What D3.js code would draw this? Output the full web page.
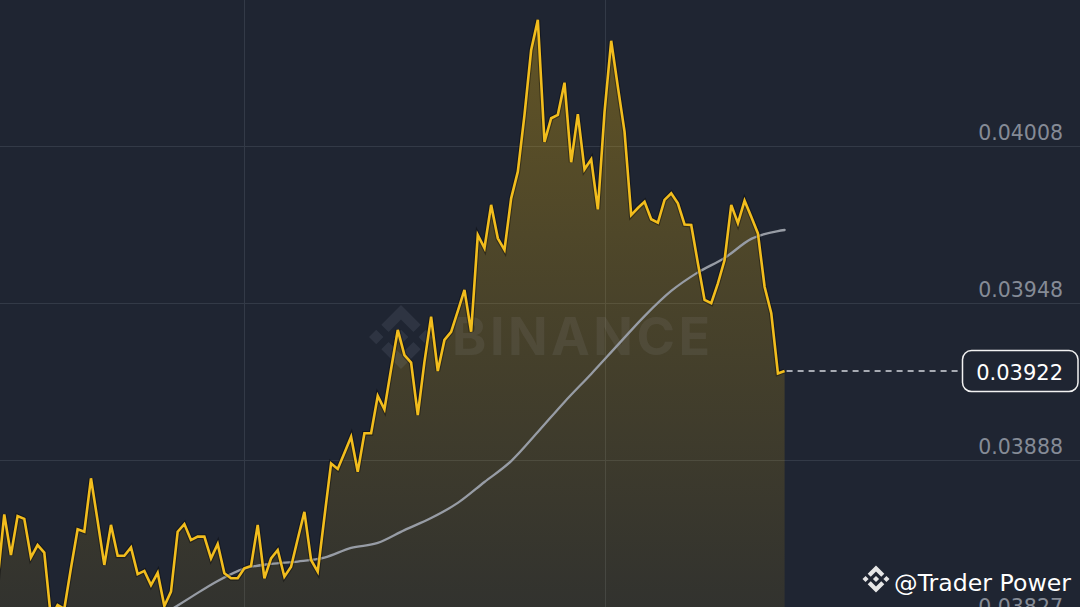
<!DOCTYPE html>
<html>
<head>
<meta charset="utf-8">
<script src="https://cdn.jsdelivr.net/npm/d3@7/dist/d3.min.js"></script>
<style>
  html, body { margin: 0; padding: 0; background: #1f2532; }
  svg { display: block; }
</style>
</head>
<body>
<svg id="chart" width="1080" height="607"></svg>
<script>
// ---------- DATA ----------
// price series, one value per candle index (index starts at -1)
const firstIndex = -1;
const priceValues = [
  0.038421, 0.038672, 0.038517, 0.038666, 0.038655, 0.038508, 0.038555, 0.038526, 0.038276, 0.038326,
  0.038311, 0.038467, 0.038615, 0.038606, 0.038810, 0.038647, 0.038479, 0.038632, 0.038514, 0.038514,
  0.038546, 0.038444, 0.038456, 0.038402, 0.038449, 0.038322, 0.038377, 0.038606, 0.038635, 0.038574,
  0.038587, 0.038587, 0.038504, 0.038559, 0.038447, 0.038428, 0.038428, 0.038466, 0.038475, 0.038632,
  0.038428, 0.038504, 0.038536, 0.038434, 0.038472, 0.038578, 0.038682, 0.038498, 0.038453, 0.038662,
  0.038867, 0.038846, 0.038907, 0.038969, 0.038835, 0.038982, 0.038982, 0.039125, 0.039074, 0.039228,
  0.039377, 0.039281, 0.039252, 0.039052, 0.039255, 0.039428, 0.039220, 0.039339, 0.039370, 0.039449,
  0.039530, 0.039370, 0.039740, 0.039690, 0.039855, 0.039727, 0.039683, 0.039880, 0.039982, 0.040199,
  0.040447, 0.040562, 0.040096, 0.040186, 0.040199, 0.040322, 0.040018, 0.040202, 0.039991, 0.040029,
  0.039838, 0.040210, 0.040482, 0.040306, 0.040135, 0.039816, 0.039843, 0.039867, 0.039800, 0.039787,
  0.039874, 0.039899, 0.039861, 0.039780, 0.039778, 0.039632, 0.039492, 0.039479, 0.039555, 0.039644,
  0.039855, 0.039785, 0.039871, 0.039810, 0.039746, 0.039542, 0.039441, 0.039211, 0.039220
];
// moving average (grey line), sampled at these candle indices
const maIndex  = [24, 28, 32, 36, 40, 44, 48, 52, 56, 60, 64, 68, 72, 76, 80, 84, 88, 92, 96, 100, 104, 108, 112, 116, 117];
const maValues = [0.038292, 0.038356, 0.038418, 0.038465, 0.038483, 0.038492, 0.038507, 0.038544, 0.038563, 0.038612,
                  0.038658, 0.038716, 0.038796, 0.038876, 0.038987, 0.039102, 0.039209, 0.039320, 0.039430, 0.039526,
                  0.039597, 0.039652, 0.039725, 0.039755, 0.039759];
const yTicks = [0.04008, 0.03948, 0.03888, 0.03827];
const yTickLabels = ["0.04008", "0.03948", "0.03888", "0.03827"];
const xGridIndex = [36, 90];
const lastPrice = 0.03922;
const lastPriceLabel = "0.03922";
const watermarkText = "BINANCE";
const authorText = "@Trader Power";

// ---------- LAYOUT ----------
const W = 1080, H = 607;
const svg = d3.select("#chart");
const lastIndex = firstIndex + priceValues.length - 1;

const x = d3.scaleLinear().domain([firstIndex, lastIndex]).range([-2.4, 784.6]);
const y = d3.scaleLinear().domain([0.03888, 0.04008]).range([460, 146]);

const data = priceValues.map((v, i) => ({ i: firstIndex + i, v }));
const maData = maIndex.map((idx, k) => ({ i: idx, v: maValues[k] }));

svg.append("rect").attr("width", W).attr("height", H).attr("fill", "#1f2532");

const defs = svg.append("defs");
const grad = defs.append("linearGradient")
  .attr("id", "areaGrad").attr("gradientUnits", "userSpaceOnUse")
  .attr("x1", 0).attr("x2", 0).attr("y1", 0).attr("y2", H);
grad.append("stop").attr("offset", "0").attr("stop-color", "#f0b90b").attr("stop-opacity", 0.33);
grad.append("stop").attr("offset", "0.5").attr("stop-color", "#f0b90b").attr("stop-opacity", 0.2);
grad.append("stop").attr("offset", "1").attr("stop-color", "#f0b90b").attr("stop-opacity", 0.09);

// grid
const grid = svg.append("g");
grid.selectAll("line.h").data(yTicks).join("line")
  .attr("x1", 0).attr("x2", W)
  .attr("y1", d => Math.round(y(d)) + 0.5).attr("y2", d => Math.round(y(d)) + 0.5)
  .attr("stroke", "#333a47").attr("stroke-width", 1);
grid.selectAll("line.v").data(xGridIndex).join("line")
  .attr("y1", 0).attr("y2", H)
  .attr("x1", d => Math.round(x(d)) + 0.5).attr("x2", d => Math.round(x(d)) + 0.5)
  .attr("stroke", "#333a47").attr("stroke-width", 1);

// y labels
svg.append("g").selectAll("text").data(yTicks).join("text")
  .attr("x", 1063).attr("y", d => y(d) - 13)
  .attr("text-anchor", "end").attr("dominant-baseline", "central")
  .attr("font-family", "DejaVu Sans").attr("font-size", 20.5)
  .attr("fill", "#858b96")
  .text((d, k) => yTickLabels[k]);

// Binance logo path (viewBox 126.61)
const logoPaths = [
  "M38.73 53.2L63.3 28.63 87.89 53.22l14.3-14.3L63.3 0 24.43 38.87l14.3 14.33z",
  "M0 63.31l14.3-14.31 14.31 14.31-14.31 14.3z",
  "M38.73 73.41L63.3 97.98l24.59-24.59 14.31 14.29-38.9 38.91-38.88-38.88-.02-.02z",
  "M98 63.31l14.3-14.31 14.31 14.3-14.31 14.32z",
  "M77.83 63.3L63.3 48.76 52.56 59.5l-1.24 1.23-2.54 2.54 14.52 14.5 14.53-14.52z"
];
function drawLogo(g, cx, cy, size, fill) {
  const s = size / 126.61;
  const lg = g.append("g").attr("transform", `translate(${cx - size / 2},${cy - size / 2}) scale(${s})`);
  logoPaths.forEach(p => lg.append("path").attr("d", p).attr("fill", fill));
}

// area
const area = d3.area().x(d => x(d.i)).y0(H).y1(d => y(d.v)).curve(d3.curveLinear);
svg.append("path").datum(data).attr("d", area).attr("fill", "url(#areaGrad)");

// watermark
const wm = svg.append("g");
drawLogo(wm, 401, 337, 64, "rgba(200,210,230,0.09)");
wm.append("text").attr("x", 452).attr("y", 355)
  .attr("font-family", "Inter").attr("font-weight", 700).attr("font-size", 52)
  .attr("textLength", 258).attr("lengthAdjust", "spacing")
  .attr("fill", "rgba(200,210,230,0.08)").text(watermarkText);

// MA line
const maLine = d3.line().x(d => x(d.i)).y(d => y(d.v)).curve(d3.curveMonotoneX);
svg.append("path").datum(maData).attr("d", maLine)
  .attr("fill", "none").attr("stroke", "#979ca5").attr("stroke-width", 2.3)
  .attr("stroke-linecap", "round");

// price line
const line = d3.line().x(d => x(d.i)).y(d => y(d.v)).curve(d3.curveLinear);
svg.append("path").datum(data).attr("d", line)
  .attr("fill", "none").attr("stroke", "rgba(0,0,0,0.35)").attr("stroke-width", 4.8)
  .attr("stroke-linejoin", "miter");
svg.append("path").datum(data).attr("d", line)
  .attr("fill", "none").attr("stroke", "#f2bd1d").attr("stroke-width", 2.6)
  .attr("stroke-linejoin", "miter");

// last price dashed line + label box
const yl = y(lastPrice);
svg.append("line")
  .attr("x1", x(lastIndex) + 2).attr("x2", 962).attr("y1", yl).attr("y2", yl)
  .attr("stroke", "#d5d8de").attr("stroke-width", 1.4).attr("stroke-dasharray", "6,5");
svg.append("rect")
  .attr("x", 962.5).attr("y", yl - 20.5).attr("width", 115.5).attr("height", 41)
  .attr("rx", 9).attr("ry", 9)
  .attr("fill", "#1f2532").attr("stroke", "#f2f2f2").attr("stroke-width", 1.5);
svg.append("text").attr("x", 1063).attr("y", yl + 2)
  .attr("text-anchor", "end").attr("dominant-baseline", "central")
  .attr("font-family", "DejaVu Sans").attr("font-size", 21)
  .attr("fill", "#ffffff").text(lastPriceLabel);

// author watermark
const au = svg.append("g");
drawLogo(au, 876, 579, 27, "#e6e6e6");
au.append("text").attr("x", 1071).attr("y", 591)
  .attr("text-anchor", "end")
  .attr("font-family", "DejaVu Sans").attr("font-size", 23)
  .attr("textLength", 177).attr("lengthAdjust", "spacingAndGlyphs")
  .attr("fill", "#ffffff")
  .attr("stroke", "rgba(0,0,0,0.35)").attr("stroke-width", 0.6).attr("paint-order", "stroke")
  .text(authorText);
</script>
</body>
</html>
